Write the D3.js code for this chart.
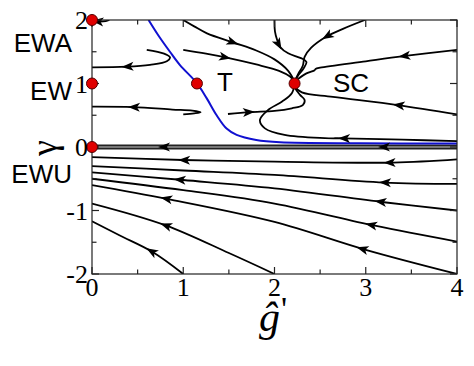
<!DOCTYPE html>
<html><head><meta charset="utf-8">
<script src="https://cdn.jsdelivr.net/npm/d3@7"></script>
<style>body{margin:0;background:#fff}svg{display:block}</style>
</head><body><svg id="c" width="474" height="366"></svg>
<script>
// ---- data (g', gamma) ----
const xTickValues = [0, 1, 2, 3, 4];
const yTickValues = [-2, -1, 0, 1, 2];
const fixedPoints = [[0, 2], [0, 1], [0, 0], [1.15, 1.0], [2.22, 1.0]];
const phaseLabels = ["EWA", "EW", "EWU"];
const pointLabels = ["T", "SC"];

// lower half flows (right -> left)
const flowA = [[4, -0.195], [3.3, -0.245], [2.0, -0.23], [1.0, -0.205], [0, -0.16]];
const flowB = [[4, -0.58], [3.2, -0.56], [2.0, -0.44], [1.0, -0.37], [0, -0.30]];
const flowC = [[4, -1.0], [3.2, -0.87], [2.0, -0.65], [1.0, -0.52], [0, -0.40]];
const flowD = [[4, -1.49], [3.1, -1.24], [2.0, -0.89], [1.0, -0.68], [0, -0.50]];
const flowE = [[4, -2.0], [3.0, -1.62], [2.0, -1.18], [0.83, -0.82], [0, -0.60]];
const flowF = [[2, -2.0], [1.5, -1.67], [0.8, -1.23], [0, -0.89]];
const flowG = [[1, -2.0], [0.66, -1.65], [0.3, -1.39], [0, -1.17]];
// upper half flows
const flowHook = [[0.19, 2.0], [0.15, 1.982], [0.09, 1.975], [0.03, 1.982]];
const flowL2 = [[0.6, 1.53], [0.79, 1.47], [0.855, 1.41], [0.82, 1.35], [0.635, 1.295], [0.38, 1.265], [0, 1.255]];
const flowL3 = [[1.0, 0.515], [1.12, 0.53], [1.19, 0.548], [1.1, 0.572], [0.88, 0.59], [0.45, 0.628], [0, 0.635]];
const flowL4 = [[1.0, 1.53], [1.25, 1.47], [1.5, 1.40], [1.8, 1.30], [2.05, 1.2], [2.17, 1.11], [2.22, 1.03]];
const flowL5 = [[1.0, 2.0], [1.12, 1.9], [1.26, 1.79], [1.55, 1.645], [1.8, 1.52], [2.0, 1.38], [2.15, 1.2], [2.22, 1.03]];
const flowV1 = [[2.0, 2.0], [2.005, 1.82], [2.03, 1.68], [2.06, 1.58], [2.15, 1.475], [2.29, 1.40], [2.35, 1.34], [2.32, 1.24], [2.26, 1.13], [2.22, 1.03]];
const flowV2 = [[2.99, 2.0], [2.75, 1.86], [2.57, 1.74], [2.40, 1.56], [2.33, 1.42], [2.31, 1.28], [2.26, 1.15], [2.22, 1.03]];
const flowR1 = [[4, 1.53], [3.41, 1.43], [3.0, 1.35], [2.5, 1.25], [2.45, 1.23], [2.44, 1.21], [2.35, 1.16], [2.22, 1.03]];
const flowR2 = [[4, 0.515], [3.35, 0.66], [2.64, 0.79], [2.30, 0.86], [2.23, 0.94], [2.22, 1.0]];
const flowL6 = [[1.49, 0.52], [1.73, 0.55], [2.0, 0.57], [2.19, 0.61], [2.31, 0.66], [2.33, 0.74], [2.28, 0.82], [2.23, 0.92], [2.22, 1.0]];
const flowS1 = [[4, 0.094], [3.4, 0.115], [2.75, 0.137], [2.55, 0.14], [2.11, 0.19], [1.895, 0.294], [1.84, 0.425], [1.93, 0.583], [2.08, 0.713], [2.19, 0.846], [2.22, 1.0]];
// fixed line gamma = 0 and separatrix through T
const fixedLine = [[4, 0], [0, 0]];
const separatrix = [[0.62, 2.0], [0.726, 1.76], [0.854, 1.50], [0.964, 1.29], [1.147, 1.01], [1.256, 0.77], [1.366, 0.50], [1.475, 0.29], [1.585, 0.19], [1.80, 0.11], [2.06, 0.074], [2.94, 0.058], [4, 0.055]];

const flows = [
  {pts: flowA, arrows: [[3.25, -0.245], [1.0, -0.205]]},
  {pts: flowB, arrows: [[3.2, -0.56]]},
  {pts: flowC, arrows: [[3.15, -0.86], [0.95, -0.52]]},
  {pts: flowD, arrows: [[3.05, -1.22]]},
  {pts: flowE, arrows: [[2.95, -1.6], [0.8, -0.82]]},
  {pts: flowF, arrows: [[0.8, -1.23]]},
  {pts: flowG, arrows: [[0.64, -1.64]]},
  {pts: flowHook, arrows: [[0.05, 1.98]]},
  {pts: flowL2, arrows: [[0.38, 1.265]]},
  {pts: flowL3, arrows: [[0.45, 0.628]]},
  {pts: flowL4, arrows: [[1.47, 1.41]]},
  {pts: flowL5, arrows: [[1.55, 1.645]]},
  {pts: flowV1, arrows: [[2.05, 1.6]]},
  {pts: flowV2, arrows: [[2.57, 1.74]]},
  {pts: flowR1, arrows: [[3.41, 1.43]]},
  {pts: flowR2, arrows: [[3.35, 0.66]]},
  {pts: flowL6, arrows: [[1.73, 0.55]]},
  {pts: flowS1, arrows: [[2.75, 0.137]]}
];

// ---- drawing ----
const svg = d3.select("#c");
const x = d3.scaleLinear().domain([0, 4]).range([92, 457]);
const y = d3.scaleLinear().domain([-2, 2]).range([274, 20]);
const line = d3.line().x(d => x(d[0])).y(d => y(d[1])).curve(d3.curveCatmullRom.alpha(0.5));

svg.append("defs").append("clipPath").attr("id", "clip")
  .append("rect").attr("x", x(0)).attr("y", y(2)).attr("width", x(4) - x(0)).attr("height", y(-2) - y(2));
const plot = svg.append("g").attr("clip-path", "url(#clip)");

function addArrows(node, targets) {
  const L = node.getTotalLength();
  targets.forEach(t => {
    const tx = x(t[0]), ty = y(t[1]);
    let best = 0, bd = Infinity;
    for (let s = 0; s <= L; s += 0.5) {
      const p = node.getPointAtLength(s);
      const d = (p.x - tx) ** 2 + (p.y - ty) ** 2;
      if (d < bd) { bd = d; best = s; }
    }
    const p = node.getPointAtLength(best);
    const p1 = node.getPointAtLength(Math.max(0, best - 2));
    const p2 = node.getPointAtLength(Math.min(L, best + 2));
    const ang = Math.atan2(p2.y - p1.y, p2.x - p1.x) * 180 / Math.PI;
    svg.append("path").attr("d", "M5,0L-7,-4.5L-4,0L-7,4.5Z")
      .attr("transform", `translate(${p.x},${p.y}) rotate(${ang})`).attr("fill", "#000");
  });
}

flows.forEach(f => {
  const p = plot.append("path").attr("d", line(f.pts)).attr("fill", "none")
    .attr("stroke", "#000").attr("stroke-width", 1.8);
  addArrows(p.node(), f.arrows);
});

// thick fixed line
plot.append("path").attr("d", d3.line().x(d => x(d[0])).y(d => y(d[1]))(fixedLine))
  .attr("stroke", "#222").attr("stroke-width", 5).attr("fill", "none");
const fl = plot.append("path").attr("d", d3.line().x(d => x(d[0])).y(d => y(d[1]))(fixedLine))
  .attr("stroke", "#777").attr("stroke-width", 2).attr("fill", "none");
addArrows(fl.node(), [[3.19, 0], [0.78, 0]]);

// separatrix
plot.append("path").attr("d", line(separatrix)).attr("fill", "none")
  .attr("stroke", "#1010d0").attr("stroke-width", 2);

// frame
svg.append("rect").attr("x", x(0)).attr("y", y(2)).attr("width", x(4) - x(0)).attr("height", y(-2) - y(2))
  .attr("fill", "none").attr("stroke", "#222").attr("stroke-width", 1.2);

// inward ticks on all sides
const xMinor = d3.range(0.5, 4, 1), yMinor = d3.range(-1.5, 2, 1);
const tk = svg.append("g").attr("stroke", "#222").attr("stroke-width", 1.2);
xTickValues.concat(xMinor).forEach(v => {
  const len = Number.isInteger(v) ? 7 : 4.5;
  tk.append("line").attr("x1", x(v)).attr("x2", x(v)).attr("y1", y(-2)).attr("y2", y(-2) - len);
  tk.append("line").attr("x1", x(v)).attr("x2", x(v)).attr("y1", y(2)).attr("y2", y(2) + len);
});
yTickValues.concat(yMinor).forEach(v => {
  const len = Number.isInteger(v) ? 7 : 4.5;
  tk.append("line").attr("x1", x(0)).attr("x2", x(0) + len).attr("y1", y(v)).attr("y2", y(v));
  tk.append("line").attr("x1", x(4)).attr("x2", x(4) - len).attr("y1", y(v)).attr("y2", y(v));
});

// fixed points
svg.selectAll("circle.fp").data(fixedPoints).join("circle").attr("class", "fp")
  .attr("cx", d => x(d[0])).attr("cy", d => y(d[1])).attr("r", 5.5)
  .attr("fill", "#e00000").attr("stroke", "#500").attr("stroke-width", 1);

// tick labels
const serif = "'Liberation Serif','Times New Roman',serif";
svg.selectAll("text.xt").data(xTickValues).join("text").attr("class", "xt")
  .attr("x", d => x(d)).attr("y", 296).attr("text-anchor", "middle")
  .attr("font-family", serif).attr("font-size", 26).text(d => d);
svg.selectAll("text.yt").data(yTickValues).join("text").attr("class", "yt")
  .attr("x", 88).attr("y", d => y(d) + 9).attr("text-anchor", "end")
  .attr("font-family", serif).attr("font-size", 26).text(d => d);

// axis titles
svg.append("text").attr("transform", "translate(56,148) rotate(-90)").attr("text-anchor", "middle")
  .attr("font-family", serif).attr("font-size", 36).text("γ");
const xt = svg.append("text").attr("x", 259).attr("y", 331).attr("font-family", serif).attr("font-size", 42);
xt.append("tspan").attr("font-style", "italic").text("ĝ");
xt.append("tspan").attr("font-size", 34).attr("dx", 1).attr("dy", -11).text("'");

// phase labels
const sans = "'Liberation Sans',Arial,sans-serif";
const phaseY = [52, 100, 183];
phaseLabels.forEach((t, i) => svg.append("text").attr("x", 72).attr("y", phaseY[i]).attr("text-anchor", "end")
  .attr("font-family", sans).attr("font-size", 26).text(t));
const ptPos = [[217, 91], [333, 92]];
pointLabels.forEach((t, i) => svg.append("text").attr("x", ptPos[i][0]).attr("y", ptPos[i][1])
  .attr("font-family", sans).attr("font-size", 26).text(t));
</script></body></html>
